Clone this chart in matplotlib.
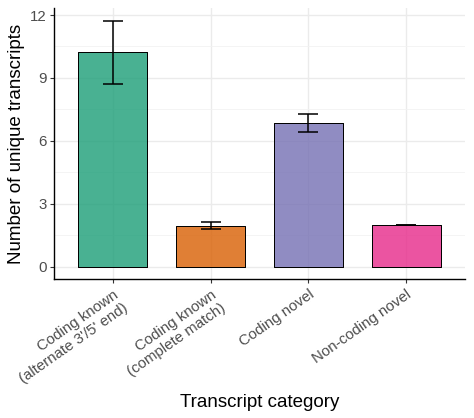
import matplotlib
matplotlib.use("Agg")
import matplotlib.pyplot as plt
import numpy as np

categories = ["Coding known\n(alternate 3'/5' end)", "Coding known\n(complete match)",
              "Coding novel", "Non-coding novel"]
means = [10.22, 1.97, 6.85, 2.0]
err_low = [8.70, 1.80, 6.42, 2.0]
err_high = [11.73, 2.13, 7.28, 2.0]
colors = ["#1B9E77", "#D95F02", "#7570B3", "#E7298A"]
yticks = [0, 3, 6, 9, 12]

plt.rcParams['font.family'] = ['Liberation Sans', 'DejaVu Sans']

fig = plt.figure(figsize=(4.74, 4.18), dpi=100)
ax = fig.add_axes([0.114, 0.332, 0.867, 0.648])

x = np.arange(1, len(categories) + 1)
ax.bar(x, means, width=0.7, color=colors, alpha=0.8, edgecolor="black", linewidth=0.7, zorder=3)
ax.bar(x, means, width=0.7, color="none", edgecolor="black", linewidth=0.7, zorder=4)
lower = np.array(means) - np.array(err_low)
upper = np.array(err_high) - np.array(means)
ax.errorbar(x, means, yerr=[lower, upper], fmt="none", ecolor="black",
            elinewidth=1.1, capsize=7.5, capthick=1.1, zorder=5)

ax.set_xlim(0.4, 4.6)
ymax = max(err_high)
ax.set_ylim(-0.05 * ymax, ymax * 1.05)
ax.set_yticks(yticks)
ax.set_yticks([1.5, 4.5, 7.5, 10.5], minor=True)
ax.set_xticks(x)
ax.set_xticklabels(categories, rotation=35, ha="right", va="top",
                   rotation_mode="anchor", fontsize=10.8, color="#4D4D4D")
ax.tick_params(axis="y", labelsize=10.8, labelcolor="#4D4D4D", length=3, color="#333333", pad=2)
ax.tick_params(axis="x", length=3, color="#333333", pad=3)
ax.tick_params(axis="y", which="minor", length=0)

ax.grid(True, which="major", color="#EBEBEB", linewidth=1.0, zorder=0)
ax.grid(True, which="minor", axis="y", color="#F2F2F2", linewidth=0.6, zorder=0)
ax.set_axisbelow(True)

for s in ["top", "right"]:
    ax.spines[s].set_visible(False)
for s in ["left", "bottom"]:
    ax.spines[s].set_color("black")
    ax.spines[s].set_linewidth(1.0)

ax.set_ylabel("Number of unique transcripts", fontsize=13.5, labelpad=4)
ax.set_xlabel("Transcript category", fontsize=13.5, labelpad=6)

fig.savefig("out.png", dpi=100)
